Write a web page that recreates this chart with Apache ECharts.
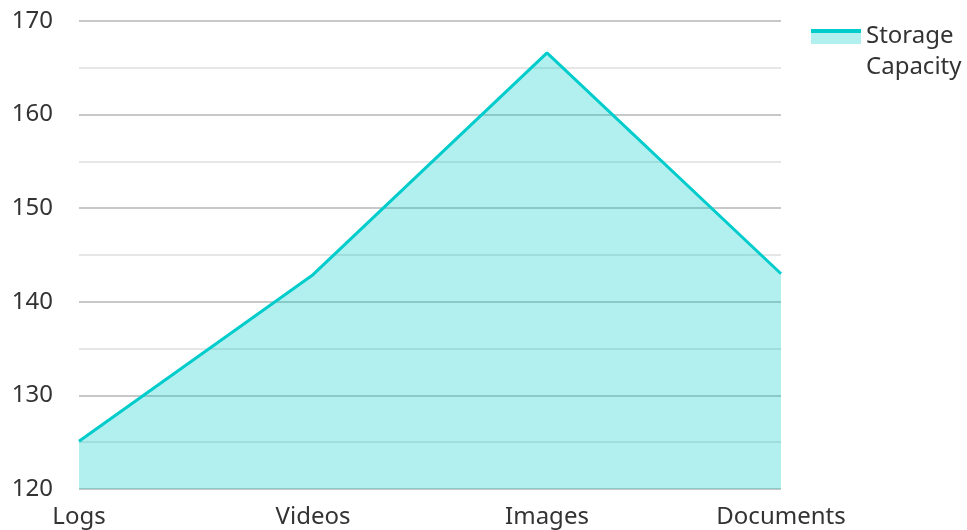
<!DOCTYPE html>
<html>
<head>
<meta charset="utf-8">
<script src="https://cdn.jsdelivr.net/npm/echarts@6/dist/echarts.min.js"></script>
<style>
  html, body { margin: 0; padding: 0; background: #fff; }
  #chart { width: 967px; height: 530px; }
</style>
</head>
<body>
<div id="chart"></div>
<script>
const categories = ['Logs', 'Videos', 'Images', 'Documents'];
const capacity = [125.1, 142.9, 166.6, 143.0];
const seriesName = 'Storage Capacity';

const teal = '#00cccc';
const tealLight = '#b2efef';

const chart = echarts.init(document.getElementById('chart'));
chart.setOption({
  animation: false,
  textStyle: { fontFamily: 'Noto Sans' },
  grid: { left: 79, right: 186, top: 21, bottom: 41, containLabel: false },
  legend: {
    orient: 'vertical',
    left: 806,
    top: -15,
    icon: 'rect',
    itemWidth: 50,
    itemHeight: 15,
    data: [seriesName],
    // blank first line keeps the icon level with the first text line
    formatter: name => '\n' + name,
    itemStyle: {
      color: {
        type: 'linear', x: 0, y: 0, x2: 0, y2: 1,
        colorStops: [
          { offset: 0, color: teal },
          { offset: 0.3, color: teal },
          { offset: 0.3, color: tealLight },
          { offset: 1, color: tealLight }
        ]
      }
    },
    textStyle: {
      fontSize: 24,
      color: '#333',
      width: 100,
      overflow: 'break',
      lineHeight: 31
    }
  },
  xAxis: {
    type: 'category',
    data: categories,
    boundaryGap: false,
    axisLine: { show: false },
    axisTick: { show: false },
    axisLabel: { fontSize: 24, color: '#333', margin: 16 }
  },
  yAxis: {
    type: 'value',
    min: 120,
    max: 170,
    interval: 10,
    axisLine: { show: false },
    axisTick: { show: false },
    axisLabel: { fontSize: 24, color: '#333', margin: 26 },
    splitLine: { lineStyle: { color: '#c8c8c8', width: 2 } },
    minorTick: { show: false, splitNumber: 2 },
    minorSplitLine: { show: true, lineStyle: { color: '#e6e6e6', width: 2 } }
  },
  series: [{
    name: seriesName,
    type: 'line',
    data: capacity,
    symbol: 'none',
    lineStyle: { color: teal, width: 3 },
    itemStyle: { color: teal },
    areaStyle: { color: teal, opacity: 0.3 }
  }]
});
</script>
</body>
</html>
